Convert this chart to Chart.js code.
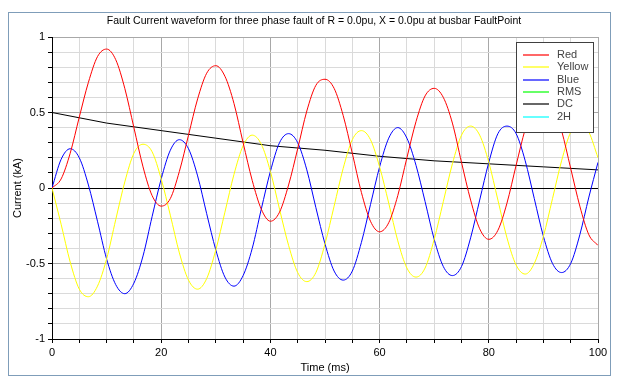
<!DOCTYPE html>
<html>
<head>
<meta charset="utf-8">
<script src="https://cdn.jsdelivr.net/npm/chart.js@4"></script>
<style>
  body { margin: 0; background: #fff; }
  canvas { display: block; }
</style>
</head>
<body>
<canvas id="chart" width="631" height="384"></canvas>
<script>
// sample times (ms) and phase currents (kA)
const time = [0, 1.67, 3.33, 5, 6.67, 8.33, 10, 11.67, 13.33, 15, 16.67, 18.33,
  20, 21.67, 23.33, 25, 26.67, 28.33, 30, 31.67, 33.33, 35, 36.67, 38.33,
  40, 41.67, 43.33, 45, 46.67, 48.33, 50, 51.67, 53.33, 55, 56.67, 58.33,
  60, 61.67, 63.33, 65, 66.67, 68.33, 70, 71.67, 73.33, 75, 76.67, 78.33,
  80, 81.67, 83.33, 85, 86.67, 88.33, 90, 91.67, 93.33, 95, 96.67, 98.33, 100];

const red = [0.00, 0.06, 0.23, 0.47, 0.70, 0.87, 0.92, 0.85, 0.66, 0.40, 0.14, -0.05,
  -0.12, -0.07, 0.11, 0.35, 0.59, 0.76, 0.81, 0.74, 0.56, 0.30, 0.05, -0.14,
  -0.22, -0.16, 0.02, 0.26, 0.51, 0.68, 0.72, 0.66, 0.48, 0.23, -0.03, -0.22,
  -0.29, -0.23, -0.05, 0.20, 0.44, 0.61, 0.66, 0.60, 0.43, 0.17, -0.08, -0.27,
  -0.34, -0.28, -0.10, 0.15, 0.39, 0.56, 0.62, 0.56, 0.38, 0.13, -0.12, -0.31, -0.38];

const yellow = [0.00, -0.24, -0.49, -0.67, -0.72, -0.65, -0.47, -0.21, 0.04, 0.23, 0.29, 0.24,
  0.06, -0.18, -0.43, -0.61, -0.67, -0.60, -0.41, -0.16, 0.09, 0.28, 0.35, 0.29,
  0.11, -0.14, -0.38, -0.56, -0.62, -0.56, -0.37, -0.12, 0.13, 0.32, 0.38, 0.32,
  0.14, -0.10, -0.35, -0.53, -0.59, -0.53, -0.34, -0.09, 0.16, 0.35, 0.41, 0.35,
  0.17, -0.08, -0.33, -0.51, -0.57, -0.50, -0.32, -0.07, 0.18, 0.37, 0.43, 0.37, 0.20];

const blue = [0.00, 0.19, 0.26, 0.20, 0.02, -0.22, -0.47, -0.64, -0.70, -0.63, -0.45, -0.19,
  0.06, 0.25, 0.32, 0.26, 0.08, -0.17, -0.41, -0.59, -0.65, -0.58, -0.40, -0.14,
  0.11, 0.30, 0.36, 0.30, 0.12, -0.13, -0.37, -0.55, -0.61, -0.55, -0.36, -0.11,
  0.14, 0.33, 0.40, 0.33, 0.15, -0.09, -0.34, -0.52, -0.58, -0.52, -0.33, -0.08,
  0.17, 0.36, 0.41, 0.36, 0.18, -0.07, -0.32, -0.50, -0.56, -0.50, -0.31, -0.06, 0.17];

const dcTime = [0, 10, 20, 30, 40, 50, 60, 70, 80, 90, 100];
const dc = [0.50, 0.43, 0.38, 0.33, 0.28, 0.25, 0.21, 0.18, 0.16, 0.14, 0.12];

const rms = [];
const h2 = [];

const xLabels = [0, 20, 40, 60, 80, 100];
const yLabels = [-1, -0.5, 0, 0.5, 1];

const titleText = 'Fault Current waveform for three phase fault of R = 0.0pu, X = 0.0pu at busbar FaultPoint';
const FONT = '"Liberation Sans", Arial, sans-serif';

function pts(xs, ys) {
  return ys.map((v, i) => ({ x: xs[i], y: v }));
}

function line(label, color, data) {
  return {
    label: label,
    data: data,
    borderColor: color,
    backgroundColor: color,
    borderWidth: 1,
    pointRadius: 0,
    fill: false,
    cubicInterpolationMode: 'monotone'
  };
}

// frame, title and the boxed legend inside the plot
const decor = {
  id: 'decor',
  beforeDraw(chart) {
    const c = chart.ctx;
    c.save();
    c.fillStyle = '#fff';
    c.fillRect(0, 0, chart.width, chart.height);
    c.strokeStyle = '#7f9db9';
    c.lineWidth = 1;
    c.strokeRect(8.5, 12.5, 602, 363);
    c.fillStyle = '#000';
    c.font = '10.5px ' + FONT;
    c.textAlign = 'center';
    c.textBaseline = 'middle';
    c.fillText(titleText, 314, 21);
    c.restore();
  },
  afterDatasetsDraw(chart) {
    const c = chart.ctx;
    c.save();
    c.fillStyle = '#fff';
    c.fillRect(516, 42, 77, 90);
    c.strokeStyle = '#404040';
    c.lineWidth = 1;
    c.strokeRect(516.5, 42.5, 77, 90);
    c.font = '11px ' + FONT;
    c.textAlign = 'left';
    c.textBaseline = 'middle';
    chart.data.datasets.forEach((ds, i) => {
      const y = Math.round(55 + i * 12.35);
      c.strokeStyle = ds.borderColor;
      c.lineWidth = 1.2;
      c.beginPath();
      c.moveTo(523, y);
      c.lineTo(549, y);
      c.stroke();
      c.fillStyle = '#444';
      c.fillText(ds.label, 557, y);
    });
    c.restore();
  }
};

const near = (v, arr) => arr.some(a => Math.abs(a - v) < 1e-6);

new Chart(document.getElementById('chart'), {
  type: 'line',
  data: {
    datasets: [
      line('Red', '#ff0000', pts(time, red)),
      line('Yellow', '#ffff00', pts(time, yellow)),
      line('Blue', '#0000ff', pts(time, blue)),
      line('RMS', '#00ff00', pts(time, rms)),
      { ...line('DC', '#000000', pts(dcTime, dc)), cubicInterpolationMode: 'default', tension: 0 },
      line('2H', '#00ffff', pts(time, h2))
    ]
  },
  options: {
    responsive: false,
    animation: false,
    events: [],
    layout: { padding: { top: 37, right: 33, left: 0, bottom: 0 } },
    plugins: { legend: { display: false }, title: { display: false }, tooltip: { enabled: false } },
    scales: {
      x: {
        type: 'linear',
        min: 0,
        max: 100,
        afterFit(s) { s.height = 45; },
        border: { display: true, color: '#000', width: 1 },
        grid: {
          color: (ctx) => (ctx.tick && ctx.tick.value % 20 === 0) ? '#a8a8a8' : '#dadada',
          tickColor: '#000',
          tickLength: 4
        },
        ticks: {
          stepSize: 5,
          autoSkip: false,
          maxRotation: 0,
          padding: 3,
          color: '#000',
          font: { family: FONT, size: 11 },
          callback: (v) => near(v, xLabels) ? String(v) : ''
        },
        title: {
          display: true,
          text: 'Time (ms)',
          color: '#000',
          font: { family: FONT, size: 11 },
          padding: { top: 0, bottom: 9 }
        }
      },
      y: {
        min: -1,
        max: 1,
        afterFit(s) { s.width = 52; },
        border: { display: true, color: '#000', width: 1 },
        grid: {
          color: (ctx) => {
            const v = ctx.tick ? ctx.tick.value : 1;
            if (Math.abs(v) < 1e-6) return '#000';
            return near(v, yLabels) ? '#a8a8a8' : '#dadada';
          },
          tickColor: '#000',
          tickLength: 4
        },
        ticks: {
          stepSize: 0.1,
          autoSkip: false,
          padding: 3,
          color: '#000',
          font: { family: FONT, size: 11 },
          callback: (v) => {
            const f = yLabels.find(a => Math.abs(a - v) < 1e-6);
            return f === undefined ? '' : String(f);
          }
        },
        title: {
          display: true,
          text: 'Current (kA)',
          color: '#000',
          font: { family: FONT, size: 11 },
          padding: { top: 11, bottom: 0 }
        }
      }
    }
  },
  plugins: [decor]
});
</script>
</body>
</html>
